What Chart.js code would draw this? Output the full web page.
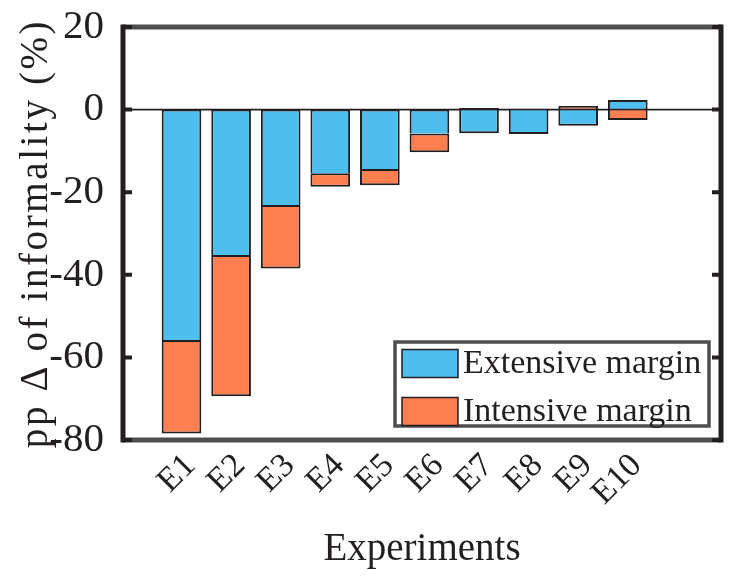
<!DOCTYPE html>
<html><head><meta charset="utf-8">
<script src="https://cdn.jsdelivr.net/npm/chart.js@4/dist/chart.umd.min.js"></script>
<style>html,body{margin:0;padding:0;background:#fff;}#wrap{width:741px;height:585px;}</style>
</head><body><div id="wrap"><canvas id="c" width="741" height="585"></canvas></div>
<script>
const categories = ['E1','E2','E3','E4','E5','E6','E7','E8','E9','E10'];
const extensiveMargin = [-55.8,-35.2,-23.1,-15.4,-14.4,-5.8,-5.7,-5.9,-3.9,2.35];
const intensiveMargin = [-22.6,-34.2,-15.4,-3.3,-3.9,-4.5,0.4,0.2,0.9,-2.5];
const yTickValues = [20,0,-20,-40,-60,-80];
const seriesNames = ['Extensive margin','Intensive margin'];
const xLabel = 'Experiments';
const yLabel = 'pp \u0394 of informality (%)';

const SERIF = '"Liberation Serif","DejaVu Serif",serif';
const INK = '#231f20';
const BOX = '#4d4d4d';
const EDGE = 2;

// border widths so that the shared edge of stacked segments is drawn once
function edgeWidths(far, base, value) {
  return value < 0
    ? { top: base, bottom: far, left: EDGE, right: EDGE }
    : { top: far, bottom: base, left: EDGE, right: EDGE };
}
function sameSign(i) { return (extensiveMargin[i] < 0) === (intensiveMargin[i] < 0); }
function extensiveBorder(c) {
  const i = c.dataIndex;
  return sameSign(i) ? edgeWidths(0, EDGE, extensiveMargin[i]) : edgeWidths(EDGE, 1, extensiveMargin[i]);
}
function intensiveBorder(c) {
  const i = c.dataIndex;
  return edgeWidths(EDGE, sameSign(i) ? EDGE : 1, intensiveMargin[i]);
}

const matlabAxes = {
  id: 'matlabAxes',
  beforeDatasetsDraw(chart) {
    const {ctx, chartArea: a, scales: {y}} = chart;
    const y0 = y.getPixelForValue(0);
    ctx.save();
    ctx.strokeStyle = INK; ctx.lineWidth = 1.6;
    ctx.beginPath(); ctx.moveTo(a.left, y0); ctx.lineTo(a.right, y0); ctx.stroke();
    ctx.restore();
  },
  afterDatasetsDraw(chart, args, opts) {
    const {ctx, chartArea: a, scales: {y}} = chart;
    ctx.save();
    ctx.lineWidth = 5;
    ctx.strokeStyle = BOX;
    ctx.beginPath();
    ctx.moveTo(a.left, a.top); ctx.lineTo(a.right, a.top);
    ctx.moveTo(a.left, a.bottom); ctx.lineTo(a.right, a.bottom);
    ctx.stroke();
    ctx.strokeStyle = INK;
    ctx.beginPath();
    ctx.moveTo(a.left, a.top - 2.5); ctx.lineTo(a.left, a.bottom + 2.5);
    ctx.moveTo(a.right, a.top - 2.5); ctx.lineTo(a.right, a.bottom + 2.5);
    ctx.stroke();
    ctx.lineWidth = 4;
    ctx.beginPath();
    yTickValues.forEach(v => {
      const py = y.getPixelForValue(v);
      ctx.moveTo(a.left, py); ctx.lineTo(a.left + 9, py);
      ctx.moveTo(a.right, py); ctx.lineTo(a.right - 9, py);
    });
    ctx.stroke();
    ctx.restore();
    // y-axis title, spaced like the LaTeX original
    ctx.save();
    ctx.translate(opts.titleX, (a.top + a.bottom) / 2);
    ctx.rotate(-Math.PI / 2);
    ctx.font = opts.titleSize + 'px ' + SERIF;
    try { ctx.letterSpacing = opts.titleSpacing + 'px'; } catch (e) {}
    ctx.fillStyle = INK;
    ctx.textAlign = 'center';
    ctx.textBaseline = 'middle';
    ctx.fillText(yLabel, 0, 0);
    ctx.restore();
  }
};

const boxLegend = {
  id: 'boxLegend',
  afterDraw(chart, args, opts) {
    const {ctx} = chart;
    const ds = chart.data.datasets;
    ctx.save();
    ctx.fillStyle = '#fff';
    ctx.fillRect(opts.left, opts.top, opts.width, opts.height);
    ctx.lineWidth = 3.5; ctx.strokeStyle = BOX;
    ctx.strokeRect(opts.left, opts.top, opts.width, opts.height);
    ctx.font = opts.fontSize + 'px ' + SERIF;
    ctx.textBaseline = 'middle';
    ds.forEach((d, i) => {
      const cy = opts.top + opts.firstRow + i * opts.rowGap;
      ctx.fillStyle = d.backgroundColor;
      ctx.fillRect(opts.left + 7, cy - 14, 56, 28);
      ctx.lineWidth = 1.5; ctx.strokeStyle = INK;
      ctx.strokeRect(opts.left + 7, cy - 14, 56, 28);
      ctx.fillStyle = INK;
      ctx.fillText(d.label, opts.left + 68, cy + 1);
    });
    ctx.restore();
  }
};

new Chart(document.getElementById('c'), {
  type: 'bar',
  data: {
    datasets: [
      { label: seriesNames[0], data: extensiveMargin.map((v, i) => ({x: i + 1, y: v})),
        backgroundColor: '#4DBEEE', borderColor: INK, borderWidth: extensiveBorder, borderSkipped: false,
        inflateAmount: 0, barPercentage: 1, categoryPercentage: 0.8 },
      { label: seriesNames[1], data: intensiveMargin.map((v, i) => ({x: i + 1, y: v})),
        backgroundColor: '#FF7F50', borderColor: INK, borderWidth: intensiveBorder, borderSkipped: false,
        inflateAmount: 0, barPercentage: 1, categoryPercentage: 0.8 }
    ]
  },
  options: {
    responsive: false, animation: false, devicePixelRatio: 1,
    layout: { padding: { left: 0, right: 20, top: 27, bottom: 0 } },
    plugins: {
      legend: { display: false }, tooltip: { enabled: false },
      matlabAxes: { titleX: 37, titleSize: 39, titleSpacing: 2.6 },
      boxLegend: { left: 395, top: 342, width: 314, height: 84, firstRow: 21.5, rowGap: 48, fontSize: 34 }
    },
    scales: {
      x: {
        type: 'linear', stacked: true, offset: false, min: -0.18, max: 11.88,
        grid: { display: false, drawTicks: false, offset: false }, border: { display: false },
        afterBuildTicks: s => { s.ticks = categories.map((c, i) => ({ value: i + 1 })); },
        afterFit: s => { s.height = 145; s.paddingLeft = 0; s.paddingRight = 0; },
        ticks: { autoSkip: false, maxRotation: 45, minRotation: 45, padding: 6, labelOffset: 9, color: INK,
          font: { family: SERIF, size: 34 },
          callback: v => categories[v - 1] ?? '' },
        title: { display: true, text: xLabel, color: INK, font: { family: SERIF, size: 39 }, padding: { top: 0, bottom: 12 } }
      },
      y: {
        stacked: true, min: -80, max: 20,
        grid: { display: false, drawTicks: false }, border: { display: false },
        afterBuildTicks: s => { s.ticks = yTickValues.map(v => ({ value: v })); },
        afterFit: s => { s.width = 123; s.paddingTop = 0; s.paddingBottom = 0; },
        ticks: { padding: 19, color: INK, font: { family: SERIF, size: 41 } },
        title: { display: false }
      }
    }
  },
  plugins: [matlabAxes, boxLegend]
});
</script>
</body></html>
